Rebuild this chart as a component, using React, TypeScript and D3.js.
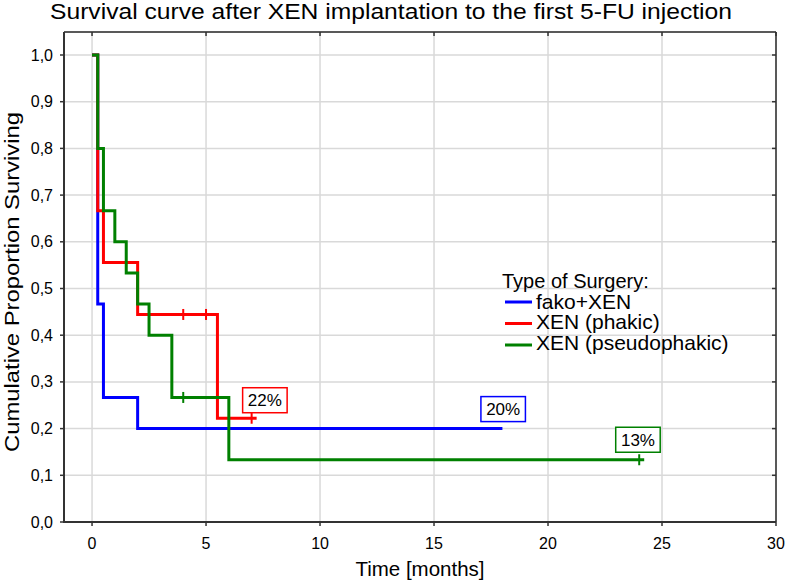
import React from "react";
import * as d3 from "d3";

// ---------- data ----------
const seriesNames = ["fako+XEN", "XEN (phakic)", "XEN (pseudophakic)"];
const seriesColors = ["#0000ff", "#ff0000", "#008000"];

// event times (months) and survival after each event
const blueTimes = [0.25, 0.5, 2];
const blueSurv = [0.4667, 0.2667, 0.2];
const blueEnd = 18;
const blueCensor: number[] = [];

const redTimes = [0.25, 0.5, 2, 5.5];
const redSurv = [0.6667, 0.5556, 0.4444, 0.2222];
const redEnd = 7;
const redCensor = [4, 5, 7];

const greenTimes = [0.25, 0.5, 1, 1.5, 2, 2.5, 3.5, 6];
const greenSurv = [0.8, 0.6667, 0.6, 0.5333, 0.4667, 0.4, 0.2667, 0.1333];
const greenEnd = 24;
const greenCensor = [4, 24];

const endLabels = ["20%", "22%", "13%"];

const xTicks = [0, 5, 10, 15, 20, 25, 30];
const yTicks = [0, 0.1, 0.2, 0.3, 0.4, 0.5, 0.6, 0.7, 0.8, 0.9, 1.0];

const titleText = "Survival curve after XEN implantation to the first 5-FU injection";
const xTitle = "Time [months]";
const yTitle = "Cumulative Proportion Surviving";
const legendTitle = "Type of Surgery:";

// ---------- layout ----------
const W = 785;
const H = 580;
const L = 64, R = 776, T = 32, B = 522;
const FONT = "'Liberation Sans', Arial, sans-serif";

const x = d3.scaleLinear().domain([-1.23, 30]).range([L, R]);
const y = d3.scaleLinear().domain([0, 1]).range([B, 55]);

const series = [
  { times: blueTimes, surv: blueSurv, end: blueEnd, censor: blueCensor },
  { times: redTimes, surv: redSurv, end: redEnd, censor: redCensor },
  { times: greenTimes, surv: greenSurv, end: greenEnd, censor: greenCensor },
];

// label box offsets relative to end point (px): [dx of box left, dy of box bottom]
const labelOffsets = [
  [-21.5, -7],
  [-9, -5.5],
  [-23.5, -7.5],
];

const line = d3
  .line<[number, number]>()
  .x((d) => d[0])
  .y((d) => d[1])
  .curve(d3.curveStepAfter);

export default function App() {
  return (
    <svg
      width={W}
      height={H}
      style={{ position: "absolute", left: 0, top: 0, background: "#fff" }}
      fontFamily={FONT}
    >
      <rect x={0} y={0} width={W} height={H} fill="#fff" />
      {/* title */}
      <text
        x={50}
        y={18.5}
        fontSize={22}
        textLength={682}
        lengthAdjust="spacingAndGlyphs"
        fill="#000"
      >
        {titleText}
      </text>

      {/* grid */}
      {xTicks
        .filter((t) => t < 30)
        .map((t) => (
          <line key={"gx" + t} x1={x(t)} x2={x(t)} y1={T} y2={B} stroke="#d9d9d9" strokeWidth={1.5} />
        ))}
      {yTicks
        .filter((t) => t > 0)
        .map((t) => (
          <line key={"gy" + t} x1={L} x2={R} y1={y(t)} y2={y(t)} stroke="#d9d9d9" strokeWidth={1.5} />
        ))}

      {/* frame */}
      <line x1={L} x2={R} y1={T} y2={T} stroke="#222" strokeWidth={1.5} />
      <line x1={R} x2={R} y1={T} y2={B} stroke="#222" strokeWidth={1.5} />
      <line x1={L} x2={L} y1={T} y2={B + 1} stroke="#333" strokeWidth={2} />
      <line x1={L - 1} x2={R} y1={B} y2={B} stroke="#333" strokeWidth={2} />

      {/* ticks */}
      {yTicks.map((t) => (
        <g key={"yt" + t}>
          <line x1={L - 4} x2={L} y1={y(t)} y2={y(t)} stroke="#333" strokeWidth={1.5} />
          <line x1={R - 4} x2={R} y1={y(t)} y2={y(t)} stroke="#333" strokeWidth={1.5} />
          <text x={53} y={y(t) + 5.5} fontSize={16} textAnchor="end" fill="#000">
            {d3.format(".1f")(t).replace(".", ",")}
          </text>
        </g>
      ))}
      {xTicks.map((t) => (
        <g key={"xt" + t}>
          <line x1={x(t)} x2={x(t)} y1={B} y2={B + 4} stroke="#333" strokeWidth={1.5} />
          <line x1={x(t)} x2={x(t)} y1={T} y2={T + 4} stroke="#333" strokeWidth={1.5} />
          <text x={x(t)} y={549} fontSize={16} textAnchor="middle" fill="#000">
            {t}
          </text>
        </g>
      ))}

      {/* axis titles */}
      <text x={420} y={576} fontSize={20.5} textAnchor="middle" fill="#000">
        {xTitle}
      </text>
      <text
        transform={`translate(19, ${282}) rotate(-90)`}
        fontSize={21}
        textAnchor="middle"
        textLength={340}
        lengthAdjust="spacingAndGlyphs"
        fill="#000"
      >
        {yTitle}
      </text>

      {/* curves */}
      {series.map((s, i) => {
        const pts: [number, number][] = [[x(0), y(1)]];
        s.times.forEach((t, k) => pts.push([x(t), y(s.surv[k])]));
        const last = s.surv[s.surv.length - 1];
        const tail = s.censor.length && s.censor[s.censor.length - 1] === s.end ? 5 : 0;
        pts.push([x(s.end) + tail, y(last)]);
        return (
          <g key={"s" + i}>
            <path d={line(pts) || ""} fill="none" stroke={seriesColors[i]} strokeWidth={3} />
            {s.censor.map((c, k) => {
              let v = 1;
              s.times.forEach((t, j) => {
                if (t <= c) v = s.surv[j];
              });
              return (
                <line
                  key={"c" + k}
                  x1={x(c)}
                  x2={x(c)}
                  y1={y(v) - 5.5}
                  y2={y(v) + 5.5}
                  stroke={seriesColors[i]}
                  strokeWidth={2}
                />
              );
            })}
          </g>
        );
      })}

      {/* end labels */}
      {series.map((s, i) => {
        const last = s.surv[s.surv.length - 1];
        const bx = x(s.end) + labelOffsets[i][0];
        const by = y(last) + labelOffsets[i][1];
        const bw = 44.5, bh = 25;
        return (
          <g key={"lab" + i}>
            <rect x={bx} y={by - bh} width={bw} height={bh} fill="#fff" stroke={seriesColors[i]} strokeWidth={1.5} />
            <text x={bx + bw / 2} y={by - 6.5} fontSize={17} textAnchor="middle" fill="#000">
              {endLabels[i]}
            </text>
          </g>
        );
      })}

      {/* legend */}
      <text x={502} y={287.5} fontSize={20} fill="#000">
        {legendTitle}
      </text>
      {seriesNames.map((n, i) => (
        <g key={"lg" + i}>
          <line x1={505} x2={532} y1={302 + i * 21.5} y2={302 + i * 21.5} stroke={seriesColors[i]} strokeWidth={3} />
          <text x={536} y={308.5 + i * 20.5} fontSize={21} fill="#000">
            {n}
          </text>
        </g>
      ))}
    </svg>
  );
}
